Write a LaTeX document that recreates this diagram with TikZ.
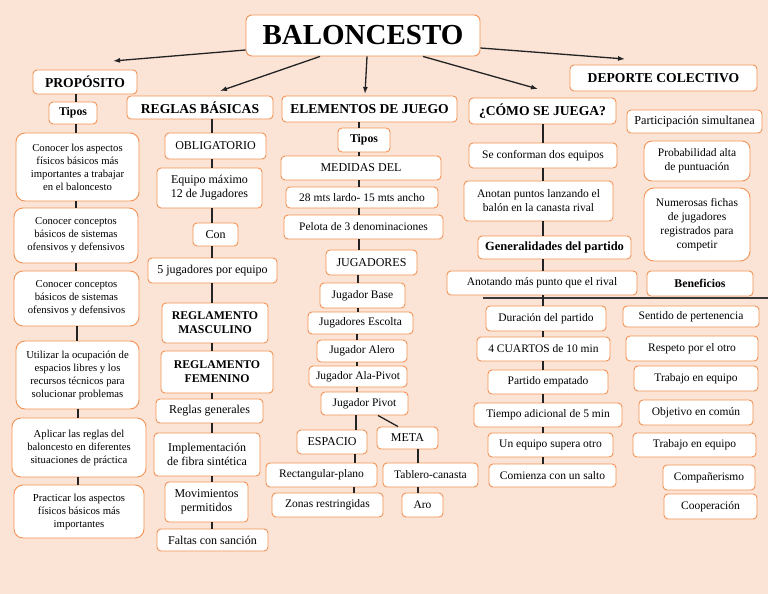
\documentclass[tikz,border=0pt]{standalone}
\usepackage{fontspec}
\setmainfont{Liberation Serif}
\usetikzlibrary{arrows.meta}
\definecolor{bgpeach}{RGB}{251,228,214}
\definecolor{boxorange}{RGB}{242,146,84}
\definecolor{linedark}{RGB}{35,35,35}
\newcommand\fnorm{\fontsize{11.5}{14}\selectfont}
\newcommand\fsmall{\fontsize{10.7}{13}\selectfont}
\newcommand\fhead{\fontsize{13.6}{15}\selectfont\bfseries}
\newcommand\fsub{\fontsize{11.8}{14}\selectfont\bfseries}
\newcommand\fbsmall{\fontsize{11.8}{14}\selectfont\bfseries}
\newcommand\fcaps{\fontsize{12}{14}\selectfont}
\tikzset{
  box/.style={draw=boxorange, line width=0.9pt, fill=white, rounded corners=4pt,
    inner sep=1pt, align=center, font=\fnorm},
  conn/.style={draw=linedark, line width=1.3pt},
  arr/.style={draw=linedark, line width=1.3pt, -{Latex[length=7pt,width=5pt]}}
}
\newcommand\bx[6][]{\node[box,minimum width=#4pt,minimum height=#5pt,#1] (#2) at (#3) {#6};}
\newcommand\vl[3]{\draw[conn] (#1,0 |- #2.south) -- (#1,0 |- #3.north);}
\begin{document}
\begin{tikzpicture}[x=1pt,y=-1pt]
\fill[bgpeach] (0,0) rectangle (768,594);
\useasboundingbox (0,0) rectangle (768,594);

% title
\bx[font=\fontsize{29}{32}\selectfont\bfseries, rounded corners=6pt]{title}{363,35.5}{234}{41}{BALONCESTO}

% headings
\bx[font=\fhead]{prop}{85,82}{104}{24}{PROPÓSITO}
\bx[font=\fhead]{reglas}{200,107.5}{146}{23}{REGLAS BÁSICAS}
\bx[font=\fhead]{elem}{369.5,109}{175}{26}{ELEMENTOS DE JUEGO}
\bx[font=\fhead]{como}{542.5,111}{147}{26}{¿CÓMO SE JUEGA?}
\bx[font=\fhead]{deporte}{663.5,78}{187}{26}{DEPORTE COLECTIVO}

% left column
\bx[font=\fbsmall]{tiposa}{73,113}{48}{22}{Tipos}
\bx[font=\fsmall,rounded corners=9pt]{L1}{77.5,167}{123}{68}{Conocer los aspectos\\físicos básicos más\\importantes a trabajar\\en el baloncesto}
\bx[font=\fsmall,rounded corners=9pt]{L2}{76,235.5}{124}{55}{Conocer conceptos\\básicos de sistemas\\ofensivos y defensivos}
\bx[font=\fsmall,rounded corners=9pt]{L3}{76.5,298.5}{125}{55}{Conocer conceptos\\básicos de sistemas\\ofensivos y defensivos}
\bx[font=\fsmall,rounded corners=9pt]{L4}{77.5,375}{123}{68}{Utilizar la ocupación de\\espacios libres y los\\recursos técnicos para\\solucionar problemas}
\bx[font=\fsmall,rounded corners=9pt]{L5}{79,447.5}{134}{59}{Aplicar las reglas del\\baloncesto en diferentes\\situaciones de práctica}
\bx[font=\fsmall,rounded corners=9pt]{L6}{79,511.5}{130}{53}{Practicar los aspectos\\físicos básicos más\\importantes}

% reglas column
\bx[font=\fcaps]{oblig}{215.5,146}{101}{26}{OBLIGATORIO}
\bx[font=\fcaps]{equipo}{209.5,188}{105}{40}{Equipo máximo\\ 12 de Jugadores}
\bx[font=\fcaps]{con}{215.5,234.5}{45}{23}{Con}
\bx[font=\fcaps]{cinco}{212.5,270.5}{129}{25}{5 jugadores por equipo}
\bx[font=\fsub]{masc}{215,323}{106}{40}{REGLAMENTO\\MASCULINO}
\bx[font=\fsub]{fem}{217,372}{112}{42}{REGLAMENTO\\FEMENINO}
\bx[font=\fcaps]{reglasgen}{209.5,411}{107}{24}{Reglas generales}
\bx[font=\fcaps]{impl}{207,454.5}{106}{43}{Implementación\\de fibra sintética}
\bx[font=\fcaps]{movi}{206.5,502}{83}{40}{Movimientos\\permitidos}
\bx[font=\fcaps]{faltas}{212.5,540}{111}{22}{Faltas con sanción}

% elementos column
\bx[font=\fbsmall]{tiposb}{364,140}{52}{24}{Tipos}
\bx[font=\fcaps]{medidas}{361,168}{160}{24}{MEDIDAS DEL}
\bx{mts}{362,197.5}{152}{21}{28 mts lardo- 15 mts ancho}
\bx{pelota}{363.5,227}{159}{24}{Pelota de 3 denominaciones}
\bx[font=\fcaps]{jug}{371.5,262.5}{91}{25}{JUGADORES}
\bx{base}{362.5,295.5}{85}{25}{Jugador Base}
\bx{escolta}{360.5,323}{105}{22}{Jugadores Escolta}
\bx{alero}{362,351}{90}{22}{Jugador Alero}
\bx{alapivot}{358,376.5}{98}{21}{Jugador Ala-Pivot}
\bx{pivot}{364.5,403.5}{87}{23}{Jugador Pivot}
\bx[font=\fcaps]{espacio}{332,442}{70}{24}{ESPACIO}
\bx[font=\fcaps]{meta}{407.5,438}{61}{22}{META}
\bx{rect}{321.5,475}{111}{24}{Rectangular-plano}
\bx{tablero}{430.5,475}{95}{24}{Tablero-canasta}
\bx{zonas}{327.5,505}{111}{24}{Zonas restringidas}
\bx{aro}{422.5,505}{41}{24}{Aro}

% como column
\bx{conforman}{543,155.5}{148}{25}{Se conforman dos equipos}
\bx{anotan}{538.5,201}{149}{40}{Anotan puntos lanzando el\\balón en la canasta rival}
\bx[font=\fontsize{12.5}{14}\selectfont\bfseries]{general}{554.5,247.5}{153}{23}{Generalidades del partido}
\bx{anotando}{542,283}{190}{24}{Anotando más punto que el rival}
\bx{duracion}{546,318.5}{120}{25}{Duración del partido}
\bx{cuartos}{543.5,349}{133}{24}{4 CUARTOS de 10 min}
\bx{empatado}{548,382}{120}{24}{Partido empatado}
\bx{tiempo}{548,415}{148}{24}{Tiempo adicional de 5 min}
\bx{supera}{550.5,445}{125}{24}{Un equipo supera otro}
\bx{salto}{552.5,475.5}{127}{23}{Comienza con un salto}

% deporte column
\bx[font=\fontsize{12.2}{14}\selectfont]{particip}{694.5,121.5}{135}{23}{Participación simultanea}
\bx[rounded corners=8pt]{prob}{697,161}{106}{40}{Probabilidad alta\\de puntuación}
\bx[rounded corners=10pt]{numerosas}{697,224.5}{106}{73}{Numerosas fichas\\de jugadores\\registrados para\\competir}
\bx[font=\fbsmall]{benef}{700,283.5}{106}{25}{Beneficios}
\bx{sentido}{691,316.5}{136}{21}{Sentido de pertenencia}
\bx{respeto}{692,348.5}{132}{25}{Respeto por el otro}
\bx{trabajoa}{696,378.5}{124}{25}{Trabajo en equipo}
\bx{objetivo}{696,412.5}{114}{25}{Objetivo en común}
\bx{trabajob}{694.5,445}{123}{24}{Trabajo en equipo}
\bx{compa}{709,477.5}{92}{25}{Compañerismo}
\bx{coop}{710.5,506.5}{93}{25}{Cooperación}

% arrows from title
\coordinate (pa) at (113,61);
\coordinate (pb) at (220,91);
\coordinate (pc) at (365,94);
\coordinate (pd) at (538,89);
\coordinate (pe) at (625,59);
\draw[arr] (title.west |- 0,50) -- (pa);
\draw[arr] (320,0 |- title.south) -- (pb);
\draw[arr] (367,0 |- title.south) -- (pc);
\draw[arr] (423,0 |- title.south) -- (pd);
\draw[arr] (title.east |- 0,48) -- (pe);

% left column lines
\vl{76}{prop}{tiposa}
\vl{76}{tiposa}{L1}
\vl{76}{L1}{L2}
\vl{76}{L2}{L3}
\vl{77}{L3}{L4}
\vl{78}{L4}{L5}
\vl{78}{L5}{L6}

% reglas column lines
\vl{212}{reglas}{oblig}
\vl{212}{oblig}{equipo}
\vl{212}{equipo}{con}
\vl{212}{con}{cinco}
\vl{212}{cinco}{masc}
\vl{212}{masc}{fem}
\vl{212}{fem}{reglasgen}
\vl{212}{reglasgen}{impl}
\vl{212}{impl}{movi}
\vl{212}{movi}{faltas}

% elementos column lines
\vl{359}{elem}{tiposb}
\vl{359}{tiposb}{medidas}
\vl{359}{medidas}{mts}
\vl{359}{mts}{pelota}
\vl{359}{pelota}{jug}
\vl{358}{jug}{base}
\vl{358}{base}{escolta}
\vl{357}{escolta}{alero}
\vl{357}{alero}{alapivot}
\vl{357}{alapivot}{pivot}
\vl{356}{pivot}{espacio}
\vl{355}{espacio}{rect}
\draw[conn] (378,0 |- pivot.south) -- (398,0 |- meta.north);
\vl{418}{meta}{tablero}
\vl{354}{rect}{zonas}
\vl{418}{tablero}{aro}

% como column lines
\vl{543}{como}{conforman}
\vl{543}{conforman}{anotan}
\vl{543}{anotan}{general}
\vl{543}{general}{anotando}
\coordinate (hl) at (483,298);
\coordinate (hr) at (768,298);
\draw[draw=linedark!90, line width=1.6pt] (hl) -- (hr);
\vl{543}{anotando}{duracion}
\vl{543}{duracion}{cuartos}
\vl{543}{cuartos}{empatado}
\vl{543}{empatado}{tiempo}
\vl{543}{tiempo}{supera}
\vl{543}{supera}{salto}
\end{tikzpicture}
\end{document}
